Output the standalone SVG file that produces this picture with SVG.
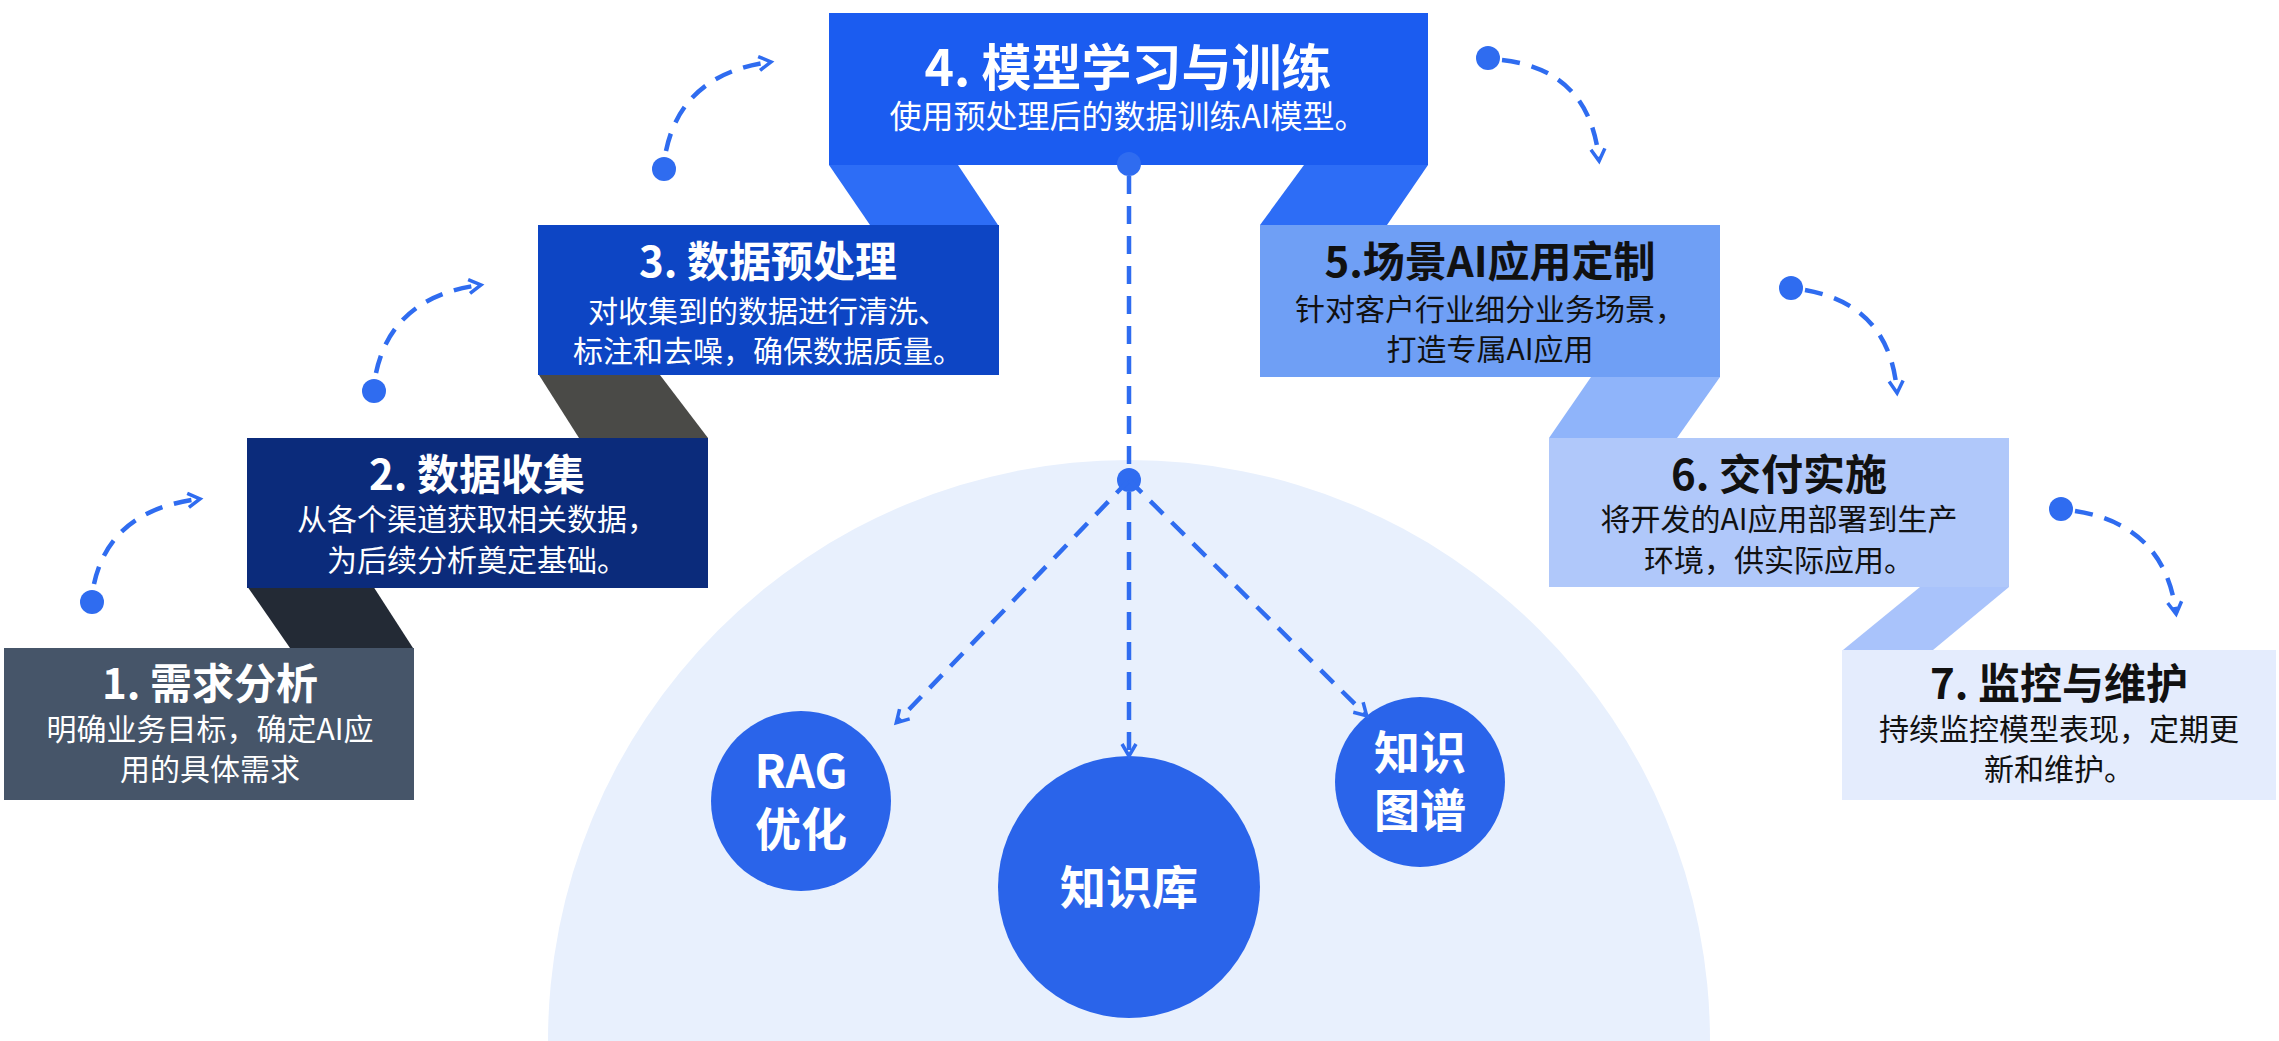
<svg xmlns="http://www.w3.org/2000/svg" width="2279" height="1041" viewBox="0 0 2279 1041">
<style>
text{font-family:"Noto Sans CJK SC","Noto Sans",sans-serif;text-anchor:middle}
.t{font-size:42px;font-weight:bold}
.b{font-size:30px}
.w{fill:#fff}.k{fill:#111}
.c{font-size:46px;font-weight:bold;fill:#fff}
.d{fill:none;stroke:#2f6cf0;stroke-width:4.5;stroke-dasharray:18 12}
.dot{fill:#2f6cf0}
</style>
<defs>
<marker id="ar" markerWidth="18" markerHeight="18" refX="13" refY="9" orient="auto" markerUnits="userSpaceOnUse" viewBox="0 0 18 18">
<path d="M2,2 L14,9 L2,16" fill="none" stroke="#2f6cf0" stroke-width="3.5"/>
</marker>
</defs>
<rect width="2279" height="1041" fill="#fff"/>
<path d="M548,1041 A581,581 0 0 1 1710,1041 Z" fill="#e8f0fd"/>
<g id="bands">
<polygon points="247,586 373,586 413,648 290,648" fill="#232a35"/>
<polygon points="539,375 660,375 708,438 579,438" fill="#4a4a47"/>
<polygon points="829,165 958,165 998,225 870,225" fill="#2d6df6"/>
<polygon points="1304,165 1428,165 1387,225 1260,225" fill="#2d6df6"/>
<polygon points="1591,377 1720,377 1677,438 1549,438" fill="#8fb4fa"/>
<polygon points="1920,587 2009,587 1933,650 1843,650" fill="#a9c3fb"/>
</g>
<g id="n1"><rect x="4" y="648" width="410" height="152" fill="#465569"/>
<text class="t w" x="210" y="699">1. 需求分析</text>
<text class="b w" x="210" y="740">明确业务目标，确定AI应</text>
<text class="b w" x="210" y="780">用的具体需求</text></g>
<g id="n2"><rect x="247" y="438" width="461" height="150" fill="#0b2b7b"/>
<text class="t w" x="477" y="490">2. 数据收集</text>
<text class="b w" x="477" y="530">从各个渠道获取相关数据，</text>
<text class="b w" x="477" y="571">为后续分析奠定基础。</text></g>
<g id="n3"><rect x="538" y="225" width="461" height="150" fill="#0d45c4"/>
<text class="t w" x="768" y="277">3. 数据预处理</text>
<text class="b w" x="768" y="322">对收集到的数据进行清洗、</text>
<text class="b w" x="768" y="362">标注和去噪，确保数据质量。</text></g>
<g id="n4"><rect x="829" y="13" width="599" height="152" fill="#1b5cf0"/>
<text class="w" x="1128" y="86" style="font-size:50px;font-weight:bold">4. 模型学习与训练</text>
<text class="b w" x="1128" y="128" style="font-size:32px">使用预处理后的数据训练AI模型。</text></g>
<g id="n5"><rect x="1260" y="225" width="460" height="152" fill="#6f9ff5"/>
<text class="t k" x="1490" y="277">5.场景AI应用定制</text>
<text class="b k" x="1490" y="320">针对客户行业细分业务场景，</text>
<text class="b k" x="1490" y="360">打造专属AI应用</text></g>
<g id="n6"><rect x="1549" y="438" width="460" height="149" fill="#b0c8fa"/>
<text class="t k" x="1779" y="490">6. 交付实施</text>
<text class="b k" x="1779" y="530">将开发的AI应用部署到生产</text>
<text class="b k" x="1779" y="571">环境，供实际应用。</text></g>
<g id="n7"><rect x="1842" y="650" width="434" height="150" fill="#e4ecfd"/>
<text class="t k" x="2059" y="699">7. 监控与维护</text>
<text class="b k" x="2059" y="740">持续监控模型表现，定期更</text>
<text class="b k" x="2059" y="780">新和维护。</text></g>
<g id="rag"><circle cx="801" cy="801" r="90" fill="#2a64ea"/>
<text class="c" x="801" y="788">RAG</text><text class="c" x="801" y="846">优化</text></g>
<g id="kb"><circle cx="1129" cy="887" r="131" fill="#2a64ea"/>
<text class="c" x="1129" y="904">知识库</text></g>
<g id="kg"><circle cx="1420" cy="782" r="85" fill="#2a64ea"/>
<text class="c" x="1420" y="769">知识</text><text class="c" x="1420" y="827">图谱</text></g>
<g id="connectors">
<circle class="dot" cx="1129" cy="164" r="12"/>
<circle class="dot" cx="1129" cy="480" r="12"/>
<path class="d" d="M1129,176 L1129,468"/>
<path class="d" d="M1129,492 L1129,755" marker-end="url(#ar)"/>
<path class="d" d="M1129,480 L897,722" marker-end="url(#ar)"/>
<path class="d" d="M1129,480 L1366,715" marker-end="url(#ar)"/>
<circle class="dot" cx="92" cy="602" r="12"/>
<path class="d" d="M94,584 Q110,510 199,499" marker-end="url(#ar)"/>
<circle class="dot" cx="374" cy="391" r="12"/>
<path class="d" d="M376,373 Q392,297 480,285" marker-end="url(#ar)"/>
<circle class="dot" cx="664" cy="169" r="12"/>
<path class="d" d="M666,151 Q682,74 770,62" marker-end="url(#ar)"/>
<circle class="dot" cx="1488" cy="58" r="12"/>
<path class="d" d="M1502,60 Q1590,70 1599,160" marker-end="url(#ar)"/>
<circle class="dot" cx="1791" cy="288" r="12"/>
<path class="d" d="M1805,290 Q1890,305 1897,392" marker-end="url(#ar)"/>
<circle class="dot" cx="2061" cy="509" r="12"/>
<path class="d" d="M2075,511 Q2165,525 2176,613" marker-end="url(#ar)"/>
</g>
</svg>
